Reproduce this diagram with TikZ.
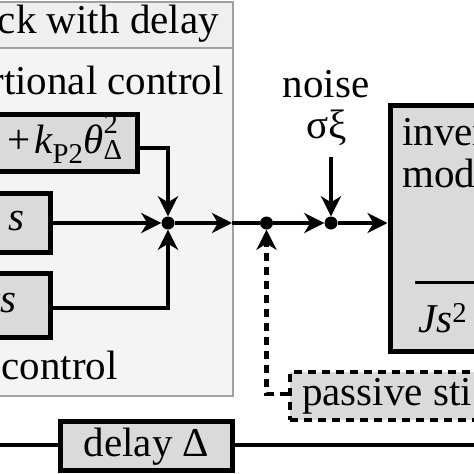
\documentclass[tikz,border=0pt]{standalone}
\usepackage{fontspec}
\usepackage{amsmath}
\setmainfont{Liberation Serif}
\usetikzlibrary{arrows.meta}
\definecolor{boxgray}{HTML}{DADADA}
\definecolor{panelfill}{HTML}{F4F4F4}
\definecolor{titlefill}{HTML}{EFEFEF}
\definecolor{panelline}{HTML}{A0A0A0}
\begin{document}
\begin{tikzpicture}[x=1pt,y=-1pt,
  blk/.style={draw=black, line width=5pt, fill=boxgray, inner sep=0pt},
  dashblk/.style={draw=black, line width=4.5pt, fill=boxgray, inner sep=0pt, dash pattern=on 8pt off 6pt},
  lbl/.style={inner sep=0pt, font=\fontsize{41}{43}\selectfont},
  wire/.style={line width=4.5pt},
  conn/.style={line width=4.5pt, -{Stealth[length=20pt,width=20pt,inset=6pt]}},
  dashconn/.style={conn, dash pattern=on 8pt off 6pt},
  dot/.style={circle, fill=black, minimum size=13pt, inner sep=0pt},
  panel/.style={draw=panelline, line width=2.5pt}]
\useasboundingbox (0,0) rectangle (474,474);
\clip (0,0) rectangle (474,474);
% panels
\path[panel, fill=panelfill] (-20,48) rectangle (233,396);
\path[panel, fill=titlefill] (-20,2) rectangle (233,48);
\node[lbl, anchor=base east] (ttl) at (219,33) {ck with delay};
\node[lbl, anchor=base east] (prop) at (224,94) {rtional control};
\node[lbl, anchor=base east] (deriv) at (118,379) {control};
% left blocks
\node[blk, minimum width=220pt, minimum height=56.5pt, anchor=east] (kp) at (140,142.75) {};
\node[lbl, anchor=base west] (kptxt) at (7,153) {$\text{+}\,\textit{k}_{\text{P2}}\textit{θ}^{\text{2}}_{\text{Δ}}$};
\node[blk, minimum width=120pt, minimum height=59pt, anchor=east] (kd) at (52.5,223) {};
\node[lbl, anchor=base west] (kdtxt) at (8,230) {\textit{s}};
\node[blk, minimum width=120pt, minimum height=64pt, anchor=east] (kg) at (52.5,305.5) {};
\node[lbl, anchor=base east] (kgtxt) at (17,312) {\textit{ys}};
% sum
\node[dot] (sum) at (168,223) {};
\coordinate (kpc) at (168,148);
\coordinate (kgc) at (168,308);
\draw[conn] (kp.east |- kpc) -- (kpc) -- (sum);
\draw[conn] (kd.east |- sum) -- (sum);
\draw[conn] (kg.east |- kgc) -- (kgc) -- (sum);
\coordinate (out) at (232,223);
\draw[conn] (sum) -- (out);
\node[dot] (jn) at (266.5,223) {};
\draw[wire] (out) -- (jn);
% noise
\node[dot] (nsum) at (331,223) {};
\node[lbl, anchor=base] (noise) at (326,97) {noise};
\node[lbl, anchor=base] (sigma) at (327,138) {σξ};
\coordinate (nin) at (331,157);
\draw[conn] (nin) -- (nsum);
\draw[conn] (jn) -- (nsum);
% inverse model
\node[blk, minimum width=140pt, minimum height=246pt, anchor=west] (inv) at (387.5,228.5) {};
\draw[conn] (nsum) -- (inv.west |- nsum);
\node[lbl, anchor=base west] (inv1) at (402,145) {inver};
\node[lbl, anchor=base west] (inv2) at (402,187) {mode};
\coordinate (fracl) at (415,282);
\coordinate (fracr) at (490,282);
\draw[line width=3pt] (fracl) -- (fracr);
\node[lbl, anchor=base west] (den) at (418,332) {\textit{Js}\textsuperscript{2}};
% passive stiffness
\node[dashblk, minimum width=220pt, minimum height=48pt, anchor=west] (pas) at (287.5,396) {};
\node[lbl, anchor=base west] (pastxt) at (302,405) {passive sti};
\coordinate (pc) at (266.5,394);
\draw[dashconn] (pas.west |- pc) -- (pc) -- (jn);
% delay
\node[blk, minimum width=172pt, minimum height=49pt, line width=4.5pt] (del) at (146.5,446) {};
\node[lbl, anchor=base] (deltxt) at (146.5,456) {delay Δ};
\coordinate (bl) at (-5,445);
\coordinate (br) at (480,445);
\draw[line width=4pt] (bl) -- (del.west |- bl);
\draw[line width=4pt] (del.east |- br) -- (br);
\end{tikzpicture}
\end{document}
